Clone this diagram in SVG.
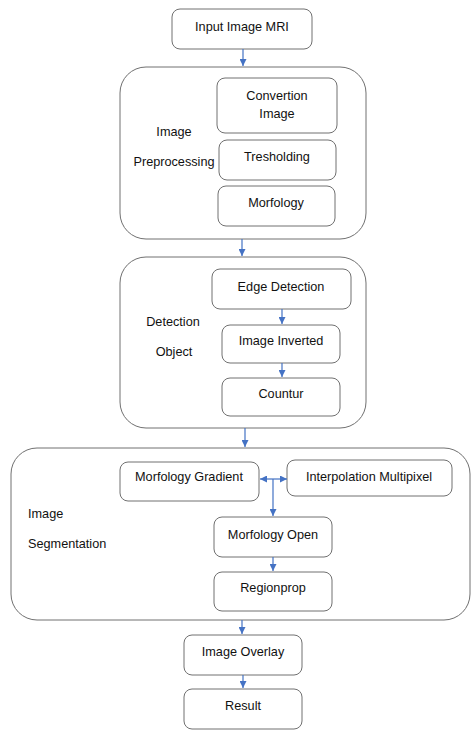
<svg xmlns="http://www.w3.org/2000/svg" width="474" height="736" viewBox="0 0 474 736">
<defs>
<marker id="ah" viewBox="0 0 8 8" refX="8" refY="4" markerWidth="7" markerHeight="7" markerUnits="userSpaceOnUse" orient="auto-start-reverse">
<path d="M0,0 L8,4 L0,8 z" fill="#4472C4"/>
</marker>
<style>
.box{fill:#fff;stroke:#707070;stroke-width:1}
.outer{fill:#fff;stroke:#707070;stroke-width:1}
.t{font-family:"Liberation Sans",Arial,sans-serif;font-size:12.7px;fill:#111;text-anchor:middle;dominant-baseline:central}
.l{font-family:"Liberation Sans",Arial,sans-serif;font-size:12.7px;fill:#111;dominant-baseline:central}
.c{stroke:#4472C4;stroke-width:1.2;fill:none}
</style>
</defs>
<rect width="474" height="736" fill="#fff"/>
<g id="input"><rect class="box" x="172" y="9" width="140" height="40" rx="8"/><text class="t" x="242" y="27">Input Image MRI</text></g>
<g id="preprocessing"><rect class="outer" x="120" y="67" width="246" height="172" rx="26"/>
<text class="t" x="174" y="132">Image</text><text class="t" x="174" y="162">Preprocessing</text></g>
<g id="convertion"><rect class="box" x="217" y="78" width="120" height="55" rx="8"/><text class="t" x="277" y="96">Convertion</text><text class="t" x="277" y="114">Image</text></g>
<g id="tresholding"><rect class="box" x="219" y="140" width="117" height="40" rx="8"/><text class="t" x="277" y="157">Tresholding</text></g>
<g id="morfology"><rect class="box" x="218" y="186" width="117" height="40" rx="8"/><text class="t" x="276" y="203">Morfology</text></g>
<g id="detection"><rect class="outer" x="120" y="257" width="246" height="171" rx="26"/>
<text class="t" x="173" y="322">Detection</text><text class="t" x="174" y="352">Object</text></g>
<g id="edge"><rect class="box" x="212" y="269" width="139" height="40" rx="8"/><text class="t" x="281" y="287">Edge Detection</text></g>
<g id="inverted"><rect class="box" x="222" y="325" width="118" height="38" rx="8"/><text class="t" x="281" y="341">Image Inverted</text></g>
<g id="countur"><rect class="box" x="222" y="378" width="118" height="38" rx="8"/><text class="t" x="281" y="394">Countur</text></g>
<g id="segmentation"><rect class="outer" x="11" y="448" width="459" height="172" rx="26"/>
<text class="l" x="28" y="514">Image</text><text class="l" x="28" y="544">Segmentation</text></g>
<g id="gradient"><rect class="box" x="120" y="462" width="139" height="39" rx="8"/><text class="t" x="189" y="477">Morfology Gradient</text></g>
<g id="interpolation"><rect class="box" x="287" y="460" width="165" height="36" rx="8"/><text class="t" x="369" y="477">Interpolation Multipixel</text></g>
<g id="open"><rect class="box" x="214" y="517" width="118" height="40" rx="8"/><text class="t" x="273" y="535">Morfology Open</text></g>
<g id="regionprop"><rect class="box" x="214" y="572" width="118" height="39" rx="8"/><text class="t" x="273" y="588">Regionprop</text></g>
<g id="overlay"><rect class="box" x="184" y="635" width="118" height="40" rx="8"/><text class="t" x="243" y="652">Image Overlay</text></g>
<g id="result"><rect class="box" x="184" y="689" width="118" height="40" rx="8"/><text class="t" x="243" y="706">Result</text></g>
<g id="connectors">
<line class="c" x1="243" y1="49" x2="243" y2="66" marker-end="url(#ah)"/>
<line class="c" x1="242" y1="239" x2="242" y2="256" marker-end="url(#ah)"/>
<line class="c" x1="282" y1="309" x2="282" y2="324" marker-end="url(#ah)"/>
<line class="c" x1="282" y1="363" x2="282" y2="377" marker-end="url(#ah)"/>
<line class="c" x1="245" y1="428" x2="245" y2="447" marker-end="url(#ah)"/>
<line class="c" x1="260" y1="479" x2="287" y2="479" marker-start="url(#ah)" marker-end="url(#ah)"/>
<line class="c" x1="273" y1="479" x2="273" y2="516" marker-end="url(#ah)"/>
<line class="c" x1="273" y1="557" x2="273" y2="571" marker-end="url(#ah)"/>
<line class="c" x1="242" y1="620" x2="242" y2="634" marker-end="url(#ah)"/>
<line class="c" x1="243" y1="675" x2="243" y2="688" marker-end="url(#ah)"/>
</g>
</svg>
